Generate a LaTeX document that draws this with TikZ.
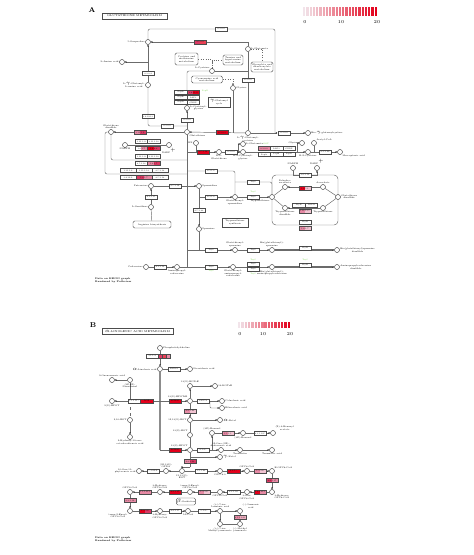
\documentclass[tikz,border=0pt]{standalone}
\usetikzlibrary{arrows.meta,backgrounds}
\definecolor{kred}{HTML}{E3001B}
\definecolor{kmid}{HTML}{DA3A64}
\definecolor{kpink}{HTML}{E78AA5}
\definecolor{klight}{HTML}{F2C4D2}
\definecolor{klow}{HTML}{F2E4EA}
\definecolor{kgreen}{HTML}{66CC33}
\newcommand\klb{\fontsize{2.2}{2.45}\selectfont}
\newcommand\kec{\fontsize{1.9}{2.1}\selectfont}
\tikzset{
 cpd/.style={circle,draw=black!85,fill=white,line width=0.4pt,minimum size=5pt,inner sep=0pt},
 ec/.style={rectangle,draw=black!70,line width=0.35pt,fill=white,minimum width=12.5pt,minimum height=4pt,inner sep=0pt,font=\kec},
 split/.style 2 args={path picture={\fill[#1] (path picture bounding box.south west) rectangle (path picture bounding box.north); \fill[#2] (path picture bounding box.south) rectangle (path picture bounding box.north east);}},
 pw/.style={rectangle,rounded corners=1.5pt,draw=black!70,line width=0.4pt,fill=white,font=\klb,align=center,inner sep=0.5pt},
 gr/.style={font=\kec,text=kgreen,inner sep=0pt},
 conn/.style={draw=black!58,line width=0.45pt},
 arr/.style={conn,-{Latex[length=1.7pt,width=1.7pt,color=black]}},
 dline/.style={draw=black!45,line width=1.2pt},
 ttl/.style={draw=black!70,line width=0.6pt,inner sep=0,font=\fontsize{2.8}{3}\selectfont},
 pl/.style={font=\bfseries\fontsize{7}{7}\selectfont,inner sep=0},
 cbl/.style={font=\fontsize{4.5}{5}\selectfont,inner sep=0},
 dat/.style={font=\bfseries\fontsize{2.4}{2.8}\selectfont,align=left,anchor=north west,inner sep=0},
 every label/.style={font=\klb,align=center,inner sep=0.3pt},
 label distance=0.2pt,
}
\begin{document}
\begin{tikzpicture}[x=1pt,y=-1pt]
\useasboundingbox (0,0) rectangle (474,555);
% ================= PANEL A =================
\node[pl] (labA) at (92,10) {A};
\node[ttl,minimum width=65pt,minimum height=6pt] (titA) at (134.5,16) {GLUTATHIONE METABOLISM};
\foreach \i in {0,...,22}{\pgfmathtruncatemacro\pp{100*\i/22}
  \fill[kred!\pp!klow] ({303+\i*3.25},7) rectangle ({303+\i*3.25+2.4},16);}
\node[cbl] (cbA0) at (305,22) {0};
\node[cbl] (cbA1) at (341,22) {10};
\node[cbl] (cbA2) at (377,22) {20};

% compounds
\node[cpd,label={left:5-Oxoproline}] (oxo) at (148,42) {};
\node[cpd,label={right:L-Glutamate}] (gluA) at (248,49) {};
\node[cpd,label={left:L-Amino acid}] (aa) at (122,62) {};
\node[cpd,label={left:{L-$\gamma$-Glutamyl-\\L-amino acid}}] (gaa) at (148,85) {};
\node[cpd,label={above left:L-Cysteine}] (cysA) at (212,71) {};
\node[cpd,label={right:Glycine}] (glyA) at (233,88) {};
\node[cpd,label={right:{L-Cysteinyl-\\glycine}}] (cysgly) at (187,108) {};
\node[cpd,label={above:{Glutathione\\disulfide}}] (gssg) at (111,132) {};
\node[cpd,label={below right:Glutathione}] (gsh) at (187,132) {};
\node[cpd,label={below:{L-$\gamma$-Glutamyl-\\cysteine}}] (ggc) at (248,133) {};
\node[cpd,label={right:{Bis-$\gamma$-glutamylcystine}}] (bisg) at (308,133) {};
\node[cpd,label={below:NADPH}] (nadphA) at (125,145) {};
\node[cpd,label={below:NADP$^+$}] (nadpA) at (169,145) {};
\node[cpd,label={left:RX}] (rx) at (196,143) {};
\node[cpd,label={below:{R-S-\\Glutathione}}] (rsg) at (219,152) {};
\node[cpd,label={right:L-Glutamate}] (gluA2) at (243,144) {};
\node[cpd,label={below:{R-S-Cysteinyl-\\glycine}}] (rscg) at (243,152) {};
\node[cpd,label={left:Glycine}] (glyA2) at (302,143) {};
\node[cpd,label={below:R-S-Cysteine}] (rscys) at (308,152) {};
\node[cpd,label={above right:Acetyl-CoA}] (acoa) at (314,143) {};
\node[cpd,label={below right:Mercapturic acid}] (merc) at (340,152) {};

% pathway boxes
\node[pw,minimum width=23pt,minimum height=12pt] (rb1) at (186.5,59) {Cysteine and\\methionine\\metabolism};
\node[pw,minimum width=20pt,minimum height=10pt] (rb2) at (233,60) {Taurine and\\hypotaurine\\metabolism};
\node[pw,minimum width=22pt,minimum height=10pt] (rb3) at (262,67) {Glyoxylate and\\dicarboxylate\\metabolism};
\node[pw,minimum width=31pt,minimum height=7pt] (rb4) at (207,79.5) {Cyanoamino acid\\metabolism};
\node[pw,minimum width=22pt,minimum height=10pt,rounded corners=0pt] (rb5) at (219,102) {$\gamma$-Glutamyl\\cycle};

% enzymes
\node[ec,split={kmid}{kred!75}] (e3529) at (200,42) {3.5.2.9};
\node[ec] (e2322a) at (221,29) {2.3.2.2};
\node[ec] (e2322b) at (284,133) {2.3.2.2};
\node[ec] (e2324) at (148,73.5) {2.3.2.4};
\node[ec] (e6322) at (248,80) {6.3.2.2};
\node[ec,fill=kred] (e6323) at (222,132.5) {6.3.2.3};
\node[ec] (e31914a) at (148,116.5) {3.4.19.13};
\node[ec] (e2322c) at (167,126) {2.3.2.2};
\node[ec] (e2322d) at (187,120) {2.3.2.2};
\node[ec] (pepA) at (180.75,92.5) {PepA};
\node[ec,split={kmid}{kred}] (e34112) at (193.25,92.5) {3.4.11.2};
\node[gr] (gPepN) at (205,91.5) {PepN};
\node[ec] (pepB) at (180.75,97.5) {PepB};
\node[ec] (lap3) at (193.25,97.5) {LAP3};
\node[ec] (pepD) at (180.75,102.5) {PepD};
\node[ec] (cndp) at (193.25,102.5) {CNDP};
\node[ec,split={kpink}{kmid}] (e11119a) at (140,132.5) {1.11.1.9};
\node[ec] (n1a) at (141.25,141.5) {1.11.1.9};
\node[ec] (n1b) at (153.75,141.5) {1.11.1.12};
\node[ec,split={white}{kpink}] (n1c) at (141.25,148.5) {1.8.1.7};
\node[ec,split={kred}{kmid}] (n1d) at (153.75,148.5) {1.6.4.2};
\node[ec] (l1a) at (141.25,156.5) {1.11.1.9};
\node[ec] (l1b) at (153.75,156.5) {1.11.1.12};
\node[ec] (l1c) at (141.25,163.5) {2.5.1.18};
\node[ec,split={kpink}{kmid}] (l1d) at (153.75,163.5) {1.8.1.7};
\node[ec,minimum width=15.5pt] (l2a) at (128,170.5) {1.11.1.9};
\node[ec,minimum width=15.5pt] (l2b) at (144,170.5) {1.11.1.12};
\node[ec,minimum width=15.5pt] (l2c) at (160,170.5) {2.5.1.18};
\node[ec,minimum width=15.5pt] (l2d) at (128,177.5) {3.4.19.9};
\node[ec,minimum width=15.5pt,split={kmid}{kpink}] (l2e) at (144,177.5) {1.8.1.7};
\node[ec,minimum width=15.5pt] (l2f) at (160,177.5) {2.5.1.18};
\node[ec,fill=kred] (e25118) at (203,152) {2.5.1.18};
\node[ec] (e2322e) at (231,152) {2.3.2.2};
\node[gr] (gGGT) at (266,143.8) {GGT};
\node[ec,fill=kpink] (g1a) at (264,148.5) {2.3.2.2};
\node[ec] (g1b) at (276.5,148.5) {LAP3};
\node[ec] (g1c) at (289,148.5) {CNDP};
\node[ec] (g2a) at (264,154.5) {PepA};
\node[ec] (g2b) at (276.5,154.5) {PepB};
\node[ec] (g2c) at (289,154.5) {PepD};
\node[ec] (e23180) at (325,152) {2.3.1.80};

% lower part
\node[cpd,label={left:Putrescine}] (put) at (151,186) {};
\node[ec] (e25116) at (175,186) {2.5.1.16};
\node[cpd,label={right:Spermidine}] (spd) at (199,186) {};
\node[cpd,label={left:L-Ornithine}] (orn) at (151,207) {};
\node[ec] (e41117) at (151,197) {4.1.1.17};
\node[pw,minimum width=38pt,minimum height=7pt] (argb) at (152,224.5) {Arginine biosynthesis};
\node[cpd,label={right:Spermine}] (spm) at (199,229) {};
\node[ec] (e25122) at (199,210.5) {2.5.1.22};
\node[pw,minimum width=26pt,minimum height=9pt,rounded corners=0pt] (trsyn) at (235,222.5) {Trypanothione\\synthesis};
\node[ec] (e6318) at (211,171) {6.3.1.8};
\node[ec] (e6318b) at (211,197) {6.3.1.8};
\node[cpd,label={below:{Glutathionyl-\\spermidine}}] (gsp) at (235,197) {};
\node[ec] (tryS1) at (253,182) {TryS};
\node[ec] (tryS2) at (253,197) {TryS};
\node[gr] (gT1) at (253,192.5) {TryS};
\node[cpd,label={below left:Trypanothione}] (tryp) at (272,197) {};
\node[cpd,label={right:{Glutathione\\disulfide}}] (gsd2) at (338,197) {};
\node[ec] (e18112) at (305,175) {1.8.1.12};
\node[cpd,label={above:NADPH}] (nadphB) at (293,168) {};
\node[cpd,label={above:NADP$^+$}] (nadpB) at (317,168) {};
\node[cpd,label={above:{Dehydro-\\ascorbate}}] (dha) at (285,187) {};
\node[cpd,label={above:Ascorbate}] (asc) at (323,187) {};
\node[ec,split={kred}{klight}] (e1851) at (305,188.5) {1.8.5.1};
\node[cpd,label={below:{Trypanothione\\disulfide}}] (tsd) at (285,208) {};
\node[cpd,label={below:Trypanothione}] (tsh) at (323,208) {};
\node[ec] (tryR) at (298.75,205) {TryR};
\node[ec] (tdpx) at (311.25,205) {TDPX};
\node[ec,split={kpink}{klight}] (e111115) at (305,211) {1.11.1.15};
\node[ec] (tryRb) at (305,222.5) {TryR};
\node[ec,split={kpink}{klight}] (e1817b) at (305,228.5) {1.8.1.7};

\node[ec] (tryS3) at (211,250) {TryS};
\node[cpd,label={above:{Glutathionyl-\\spermine}}] (gspm) at (235,250) {};
\node[ec] (tryS4) at (253,250) {TryS};
\node[cpd,label={above:{Bis(glutathionyl)-\\spermine}}] (bgspm) at (272,250) {};
\node[ec] (tryR2) at (305,248.5) {TryR};
\node[cpd,label={right:{Bis(glutathionyl)spermine\\disulfide}}] (bgsd) at (337,250) {};

\node[cpd,label={left:Cadaverine}] (cad) at (146,267) {};
\node[ec] (e41118) at (160,267) {4.1.1.18};
\node[cpd,label={below:{Aminopropyl-\\cadaverine}}] (apc) at (177,267) {};
\node[ec] (tryS5) at (211,267) {TryS};
\node[gr] (gT5) at (211,271.5) {TryS};
\node[cpd,label={below:{Glutathionyl-\\aminopropyl-\\cadaverine}}] (gapc) at (233,267) {};
\node[ec] (tryS6) at (253,264.5) {TryS};
\node[ec] (tryS7) at (253,269.5) {TryS};
\node[gr] (gT6) at (253,260) {TryS};
\node[gr] (gT7) at (253,274) {TryS};
\node[cpd,label={below:{Bis(glutathionyl)-\\aminopropylcadaverine}}] (bgapc) at (272,267) {};
\node[ec] (tryR3) at (305,265) {TryR};
\node[gr] (gT8) at (305,260.5) {TryS};
\node[cpd,label={right:{Aminopropylcadaverine\\disulfide}}] (bgapcd) at (337,267) {};
\node[dat] (datA) at (95,278) {Data on KEGG graph\\Rendered by Pathview};

% ================= PANEL B =================
\node[pl] (labB) at (93,325) {B};
\node[ttl,minimum width=71pt,minimum height=6.5pt] (titB) at (137.5,331.5) {$\alpha$-LINOLENIC ACID METABOLISM};
\foreach \i in {0,...,15}{\pgfmathtruncatemacro\pp{100*\i/15}
  \fill[kred!\pp!klow] ({238+\i*3.3},322) rectangle ({238+\i*3.3+2.4},328);}
\node[cbl] (cbB0) at (240,334) {0};
\node[cbl] (cbB1) at (263,334) {10};
\node[cbl] (cbB2) at (290,334) {20};

\node[cpd,label={right:Phosphatidylcholine}] (pc) at (160,348) {};
\node[ec] (e31114) at (152,356) {3.1.1.4};
\node[ec,minimum width=4pt,fill=kmid] (c1) at (160.25,356) {};
\node[ec,minimum width=4pt,fill=kred!75] (c2) at (164.25,356) {};
\node[ec,minimum width=4pt,fill=kpink] (c3) at (168.25,356) {};
\node[cpd,label={left:$\alpha$-Linolenic acid}] (ala) at (160,369) {};
\node[ec] (efads) at (174,369) {FADS2};
\node[cpd,label={right:Stearidonic acid}] (sda) at (190,369) {};
\node[cpd,label={above:9-Oxononanoic acid}] (bl1) at (112,380) {};
\node[cpd,label={below:{(3Z,6Z)-\\Nonadienal}}] (bl2) at (130,380) {};
\node[cpd,label={above:13(S)-HOTrE}] (b6) at (190,386) {};
\node[cpd,label={right:13-KOTrE}] (b10) at (215,386) {};
\node[ec] (elox9) at (134.25,401) {1.13.11.-};
\node[ec,fill=kred] (elox9r) at (146.75,401) {LOX};
\node[cpd,label={below:9(S)-HPOT}] (bl3) at (112,401) {};
\node[cpd,label={left:9,10-EOT}] (bl4) at (130,420) {};
\node[cpd,label={below:{9-Hydroxy-10-oxo-\\octadecadienoic acid}}] (bl5) at (130,437) {};
\node[ec,fill=kred] (elox13) at (175,401) {LOX2S};
\node[cpd,label={above left:13(S)-HPOTrE}] (b7) at (190,401) {};
\node[ec] (edes) at (203,401) {CYP74};
\node[cpd,label={right:Colnelenic acid}] (b8) at (222,401) {};
\node[cpd,label={right:Etherolenic acid}] (b9) at (222,408) {};
\node[ec,split={kpink}{klight}] (eaos) at (190,411) {4.2.1.92};
\node[cpd,label={left:12,13(S)-EOT}] (b11) at (190,420) {};
\node[cpd,label={right:$\alpha$-Ketol}] (b12) at (220,420) {};
\node[cpd,label={above left:13(S)-HOT}] (b13) at (190,435) {};
\node[cpd,label={above:(3Z)-Hexenal}] (b14) at (212,433) {};
\node[ec,split={kpink}{klight}] (eadh) at (228,433.5) {1.1.1.1};
\node[cpd,label={below:(3Z)-Hexenol}] (b15) at (243,433) {};
\node[ec] (ecxe) at (260,433.5) {2.3.1.195};
\node[cpd,label={above right:{(Z)-3-Hexenyl\\acetate}}] (b16) at (273,433) {};
\node[ec,fill=kred] (elox13b) at (175,450) {LOX2S};
\node[cpd,label={above left:13(S)-HPOT}] (b17) at (190,450) {};
\node[ec] (ehpl) at (203,450) {4.1.2.-};
\node[cpd,label={above:{12-Oxo-(9Z)-\\dodecenoic acid}}] (b18) at (221,450) {};
\node[cpd,label={below:Traumatin}] (b19) at (240,450) {};
\node[cpd,label={below:Traumatic acid}] (b20) at (272,450) {};
\node[ec,split={kpink}{kmid}] (eaos2) at (190,461.5) {4.2.1.92};
\node[cpd,label={right:$\gamma$-Ketol}] (b21) at (220,457) {};
\node[cpd,label={left:{10-Oxo-11-\\phytoenoic acid}}] (b24) at (139,471) {};
\node[ec] (eaoc) at (153,471) {5.3.99.6};
\node[cpd,label={above:{(9S,13S)-\\OPDA}}] (b22) at (166,471) {};
\node[cpd,label={below:{12,13(S)-\\EOT}}] (b23) at (182,471) {};
\node[ec] (eopr) at (201,471) {1.3.1.42};
\node[cpd,label={below:OPC-8:0}] (b25) at (220,471) {};
\node[ec,fill=kred] (eopcl) at (233.5,471) {6.2.1.-};
\node[cpd,label={above:OPC8-CoA}] (b26) at (247,471) {};
\node[ec,split={kpink}{klight}] (eacx) at (260,471) {1.3.3.6};
\node[cpd,label={above right:E-OPC8-CoA}] (b27) at (272,471) {};
\node[ec,split={kmid}{kpink}] (emfp) at (272,480.5) {4.2.1.17};
\node[cpd,label={below right:{3-Hydroxy-\\OPC8-CoA}}] (b28) at (272,492) {};
\node[ec,split={kred}{kpink}] (ehad) at (260,492) {1.1.1.211};
\node[cpd,label={below:{3-Oxo-\\OPC8-CoA}}] (b29) at (247,492) {};
\node[ec] (ekat) at (233.5,492) {2.3.1.16};
\node[cpd,label={below:OPC6-CoA}] (b30) at (220,492) {};
\node[ec,split={kpink}{klight}] (eacx2) at (204,492) {1.3.3.6};
\node[cpd,label={above:{trans-2-Enoyl-\\OPC6-CoA}}] (b31) at (190,492) {};
\node[ec,fill=kred] (emfp2) at (175,492) {4.2.1.17};
\node[cpd,label={above:{3-Hydroxy-\\OPC6-CoA}}] (b32) at (160,492) {};
\node[ec,fill=kpink] (ehad2) at (145,492) {1.1.1.211};
\node[cpd,label={above:OPC4-CoA}] (b33) at (130,492) {};
\node[ec,fill=kpink] (ekat2) at (130,500.5) {2.3.1.16};
\node[cpd,label={below left:{trans-2-Enoyl-\\OPC4-CoA}}] (b34) at (130,511) {};
\node[ec,split={kred}{kmid}] (eacx3) at (145,511) {1.3.3.6};
\node[cpd,label={below:{3-Hydroxy-\\OPC4-CoA}}] (b35) at (160,511) {};
\node[ec] (emfp3) at (175,511) {4.2.1.17};
\node[cpd,label={below:JA-CoA}] (b36) at (188,511) {};
\node[ec] (ete) at (204,511) {3.1.2.-};
\node[cpd,label={above:{(+)-7-iso-\\Jasmonic acid}}] (b37) at (220,511) {};
\node[cpd,label={above right:{(-)-Jasmonic\\acid}}] (b38) at (240,511) {};
\node[ec,split={kpink}{kpink!70}] (ejmt) at (240,517.5) {2.1.1.141};
\node[cpd,label={below:{(+)-7-iso-\\Methyl jasmonate}}] (b39) at (220,524) {};
\node[cpd,label={below:{(-)-Methyl\\jasmonate}}] (b40) at (240,524) {};
\node[pw,minimum width=18pt,minimum height=7pt] (box) at (186,501.5) {$\beta$-Oxidation};
\node[dat] (datB) at (95,537) {Data on KEGG graph\\Rendered by Pathview};

% ================= CONNECTORS =================
\begin{scope}[on background layer]
\fill[white] (0,0) rectangle (474,555);
% A top
\draw[arr] (gluA) |- (oxo);
\draw[conn,rounded corners=2pt] (oxo) -- (148,29) -- (275,29) -- (275,133);
\draw[arr] (ggc) -- (e2322b);
\draw[arr] (e2322b) -- (bisg);
\draw[arr] (gaa) -- (oxo);
\draw[arr] (148,62) -- (aa);
\draw[conn,rounded corners=2pt] (gaa) -- (148,126) -- (187,126);
\draw[arr] (gsh) -- (cysgly);
\draw[conn,rounded corners=2pt] (cysgly) -- (187,71) -- (cysA);
\draw[conn] (cysA) -- (248,71);
\draw[conn] (gluA) -- (ggc);
\draw[arr] (ggc) -- (gsh);
\draw[conn] (glyA) -- (233,132.5);
\draw[arr,dotted] (rb4) -| (glyA);
\draw[conn,dotted] (rb1) -| (cysA);
\draw[conn,dotted] (cysA) |- (rb2);
\draw[conn,dotted] (gluA) -| (rb3);
\draw[arr] (gsh) -- (gssg);
\draw[conn] (nadphA) -- (nadpA);
\draw[conn,rounded corners=2pt] (gssg) -- (111,160) -- (187,160);
\draw[conn,rounded corners=2pt] (gssg.west) -- (105,132) -- (105,174) -- (187,174);
\draw[conn] (rx) -- (196,152);
\draw[arr] (187,152) -- (rsg);
\draw[arr] (rsg) -- (rscg);
\draw[arr] (238,152) |- (gluA2);
\draw[arr] (rscg) -- (rscys);
\draw[arr] (297,152) |- (glyA2);
\draw[arr] (rscys) -- (merc);
\draw[conn] (acoa) -- (314,152);
% A lower
\draw[conn] (gsh) -- (187,267);
\draw[arr] (orn) -- (put);
\draw[conn] (orn) -- (argb);
\draw[arr] (put) -- (spd);
\draw[arr] (spd) -- (spm);
\draw[conn,rounded corners=2pt] (187,171) -- (235,171) -- (gsp);
\draw[arr] (199,197) -- (gsp);
\draw[arr] (gsp) -- (tryp);
\draw[conn,rounded corners=2pt] (235,182) -- (272,182) -- (tryp);
\draw[conn,rounded corners=4pt] (tryp) -- (272,175) -- (338,175) -- (gsd2);
\draw[conn,rounded corners=4pt] (tryp) -- (272,225) -- (338,225) -- (gsd2);
\draw[conn] (nadphB) |- (e18112.west);
\draw[arr] (e18112.east) -| (nadpB);
\draw[arr] (asc) -- (dha);
\draw[conn] (tryp) -- (dha);
\draw[conn] (asc) -- (gsd2);
\draw[arr] (tsh) -- (tsd);
\draw[conn] (tryp) -- (tsd);
\draw[conn] (tsh) -- (gsd2);
\draw[conn] (spm) -- (199,250);
\draw[arr] (187,250) -- (gspm);
\draw[arr] (gspm) -- (bgspm);
\draw[arr] (bgspm) -- (bgsd);
\draw[conn] ([yshift=1.2pt]bgspm.east) -- ([yshift=1.2pt]bgsd.west);
\draw[arr] (cad) -- (apc);
\draw[arr] (apc) -- (gapc);
\draw[arr] (gapc) -- (bgapc);
\draw[arr] (bgapc) -- (bgapcd);
\draw[conn] ([yshift=1.2pt]bgapc.east) -- ([yshift=1.2pt]bgapcd.west);
% B
\draw[arr] (pc) -- (ala);
\draw[arr] (ala) -- (sda);
\draw[dline] (ala) -- (160,450);
\draw[arr] (160,401) -- (bl3);
\draw[arr] (160,401) -- (b7);
\draw[arr] (bl2) -- (bl1);
\draw[conn] (bl2) -- (130,401);
\draw[conn,dashed] (130,401) -- (bl4);
\draw[arr] (bl4) -- (bl5);
\draw[arr] (b7) -- (b6);
\draw[arr] (b6) -- (b10);
\draw[arr] (b7) -- (b8);
\draw[arr,rounded corners=1pt] (210,401) |- (b9);
\draw[arr] (b7) -- (b11);
\draw[arr] (b11) -- (b12);
\draw[conn] (b11) -- (b13);
\draw[conn] (b13) -- (b17);
\draw[arr] (160,450) -- (b17);
\draw[arr] (b17) -- (b18);
\draw[arr] (b18) -- (b19);
\draw[arr] (b19) -- (b20);
\draw[arr] (212,450) -- (b14);
\draw[arr] (b14) -- (b15);
\draw[arr] (b15) -- (b16);
\draw[conn] (b17) -- (190,467);
\draw[arr] (190,467) -| (b23);
\draw[arr] (190,457) -- (b21);
\draw[arr] (b23) -- (b22);
\draw[arr] (b22) -- (b24);
\draw[arr] (b23) -- (b25);
\draw[arr] (b25) -- (b26);
\draw[arr] (b26) -- (b27);
\draw[arr] (b27) -- (b28);
\draw[arr] (b28) -- (b29);
\draw[arr] (b29) -- (b30);
\draw[arr] (b30) -- (b31);
\draw[arr] (b31) -- (b32);
\draw[arr] (b32) -- (b33);
\draw[arr] (b33) -- (b34);
\draw[arr] (b34) -- (b35);
\draw[arr] (b35) -- (b36);
\draw[arr] (b36) -- (b37);
\draw[arr] (b37) -- (b38);
\draw[arr] (b37) -- (b39);
\draw[arr] (b38) -- (b40);
\draw[conn] (b39) -- (b40);
\end{scope}
\end{tikzpicture}
\end{document}
